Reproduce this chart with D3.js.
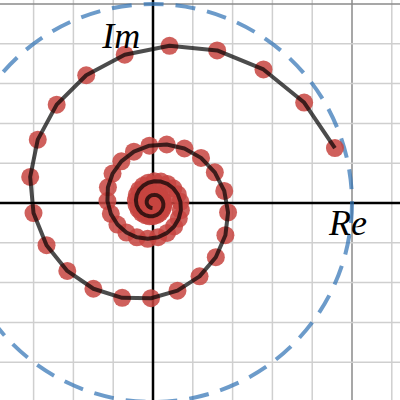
<!DOCTYPE html>
<html><head><meta charset="utf-8">
<script src="https://cdn.jsdelivr.net/npm/d3@7"></script>
<style>body{margin:0;background:#fff}svg{display:block}</style>
</head><body><div id="chart"></div>
<script>
let modulus = [4.775,4.560,4.355,4.159,3.972,3.793,3.622,3.459,3.304,3.155,3.013,2.877,2.748,2.624,2.506,2.393,2.286,2.183,2.085,1.991,
  1.901,1.816,1.734,1.656,1.581,1.510,1.442,1.377,1.315,1.256,1.200,1.146,1.094,1.045,0.998,0.953,0.910,0.869,0.830,0.793,
  0.757,0.723,0.690,0.659,0.630,0.601,0.574,0.548,0.524,0.500,0.478,0.456,0.436,0.416,0.397,0.379,0.362,0.346,0.330,0.315,
  0.301,0.288,0.275,0.262,0.250,0.239,0.228,0.218,0.208,0.199,0.190,0.181,0.173,0.165,0.158,0.151,0.144,0.137,0.131,0.125]
let argDeg = [16.8,33.6,50.4,67.2,84,100.8,117.6,134.4,151.2,168,184.8,201.6,218.4,235.2,252,268.8,285.6,302.4,319.2,336,
  352.8,369.6,386.4,403.2,420,436.8,453.6,470.4,487.2,504,520.8,537.6,554.4,571.2,588,604.8,621.6,638.4,655.2,672,
  688.8,705.6,722.4,739.2,756,772.8,789.6,806.4,823.2,840,856.8,873.6,890.4,907.2,924,940.8,957.6,974.4,991.2,1008,
  1024.8,1041.6,1058.4,1075.2,1092,1108.8,1125.6,1142.4,1159.2,1176,1192.8,1209.6,1226.4,1243.2,1260,1276.8,1293.6,1310.4,1327.2,1344]
let circleRadius = 5
let xTicks = d3.range(-3, 7)
let yTicks = d3.range(-4, 6)
let labels = [{text: 'Im', x: -0.8, y: 3.9}, {text: 'Re', x: 4.9, y: -0.8}]

let width = 400, height = 400
let unit = 39.8
let x = d3.scaleLinear().domain([-153 / unit, (400 - 153) / unit]).range([0, width])
let y = d3.scaleLinear().domain([203 / unit, (203 - 400) / unit]).range([0, height])

let svg = d3.select('#chart').append('svg').attr('width', width).attr('height', height)

// grid
svg.append('g').selectAll('line').data(xTicks.filter(d => d !== 0)).enter().append('line')
  .attr('x1', d => x(d)).attr('x2', d => x(d)).attr('y1', 0).attr('y2', height)
  .attr('stroke', d => d % 5 === 0 ? '#8a8a8a' : '#cfcfcf').attr('stroke-width', 1.5)
svg.append('g').selectAll('line').data(yTicks.filter(d => d !== 0)).enter().append('line')
  .attr('y1', d => y(d)).attr('y2', d => y(d)).attr('x1', 0).attr('x2', width)
  .attr('stroke', d => d % 5 === 0 ? '#8a8a8a' : '#cfcfcf').attr('stroke-width', 1.5)

// axes
svg.append('line').attr('x1', 0).attr('x2', width).attr('y1', y(0)).attr('y2', y(0)).attr('stroke', '#000').attr('stroke-width', 2.5)
svg.append('line').attr('y1', 0).attr('y2', height).attr('x1', x(0)).attr('x2', x(0)).attr('stroke', '#000').attr('stroke-width', 2.5)

// dashed circle
svg.append('circle').attr('cx', x(0)).attr('cy', y(0)).attr('r', x(circleRadius) - x(0))
  .attr('fill', 'none').attr('stroke', '#2d70b3').attr('stroke-opacity', 0.7)
  .attr('stroke-width', 4).attr('stroke-dasharray', '20,12')

let pts = modulus.map((r, i) => {
  let a = argDeg[i] * Math.PI / 180
  return [r * Math.cos(a), r * Math.sin(a)]
})

svg.append('g').selectAll('circle').data(pts).enter().append('circle')
  .attr('cx', d => x(d[0])).attr('cy', d => y(d[1])).attr('r', 9)
  .attr('fill', '#c74440').attr('fill-opacity', 0.85)

svg.append('path').datum(pts)
  .attr('d', d3.line().x(d => x(d[0])).y(d => y(d[1])))
  .attr('fill', 'none').attr('stroke', '#000').attr('stroke-opacity', 0.7).attr('stroke-width', 4)
  .attr('stroke-linejoin', 'round')

svg.append('g').selectAll('text').data(labels).enter().append('text')
  .attr('x', d => x(d.x)).attr('y', d => y(d.y))
  .attr('text-anchor', 'middle')
  .style('font-family', '"Liberation Serif", "DejaVu Serif", serif').style('font-style', 'italic')
  .style('font-size', '36px')
  .text(d => d.text)
</script>
</body></html>
